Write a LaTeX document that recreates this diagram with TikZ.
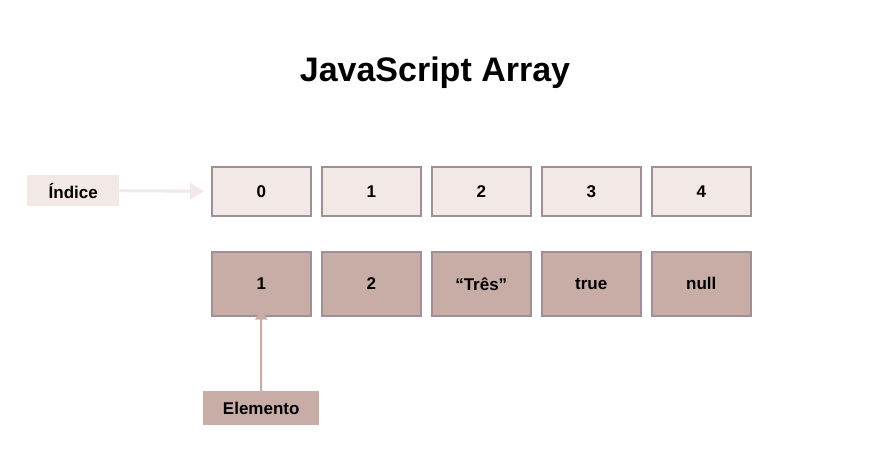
\documentclass[tikz,border=0pt]{standalone}
\usepackage{fontspec}
\setmainfont{Liberation Sans}
\usetikzlibrary{arrows.meta}
\definecolor{light}{HTML}{F2E8E5}
\definecolor{dark}{HTML}{C8ADA7}
\definecolor{edge}{HTML}{9E8F98}
\begin{document}
\begin{tikzpicture}[x=1pt,y=-1pt,
  cell/.style={draw=edge,line width=1.5pt,minimum width=99pt,anchor=north west,inner sep=0pt,font=\fontsize{17}{20}\selectfont\bfseries},
  idx/.style={cell,fill=light,minimum height=49pt},
  val/.style={cell,fill=dark,minimum height=64pt},
  lbl/.style={inner sep=0pt,anchor=north west,font=\fontsize{17}{20}\selectfont\bfseries}]
\useasboundingbox[fill=white] (0,0) rectangle (871,450);
\node[font=\fontsize{34}{40}\selectfont\bfseries] (title) at (435,73) {JavaScript Array};
\foreach \i/\t [count=\k from 0] in {0/1,1/2,2/“Três”,3/true,4/null}{
  \node[idx] (i\k) at ({211+110*\k},166) {\i};
  \node[val] (v\k) at ({211+110*\k},251) {\t};
}
\node[lbl,fill=light,minimum width=92pt,minimum height=31pt] (ind) at (27,175) {Índice};
\node[lbl,fill=dark,minimum width=116pt,minimum height=34pt] (ele) at (203,391) {Elemento};
\draw[light,line width=3pt,-{Triangle[length=14pt,width=16pt]}] (ind.east) -- ([xshift=-7pt]i0.west);
\draw[dark,line width=2pt,-{Triangle[length=10pt,width=12pt]}] (ele.north) -- ([yshift=7pt]v0.south);
\end{tikzpicture}
\end{document}
